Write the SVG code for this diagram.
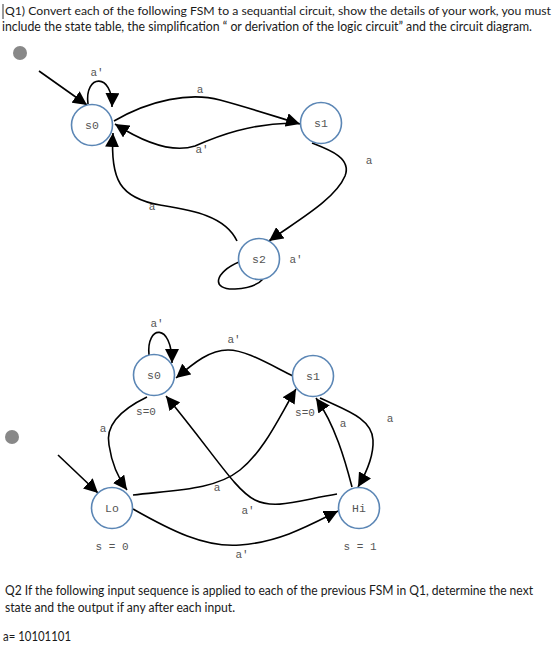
<svg xmlns="http://www.w3.org/2000/svg" width="556" height="654" viewBox="0 0 556 654">
<defs>
<marker id="ah" markerUnits="userSpaceOnUse" markerWidth="16" markerHeight="14" refX="14" refY="7" orient="auto">
<path d="M0,0 L14,7 L0,14 z" fill="#000"/>
</marker>
<style>
.doc{font-family:Lato,"Liberation Sans",Arial,sans-serif;font-size:12.5px;fill:#1a1a1a}
.st{fill:#fff;stroke:#5b86b5;stroke-width:1.6}
.nt{font-family:"Liberation Mono","Courier New",monospace;font-size:11.5px;fill:#555;text-anchor:middle}
.lb{font-family:"Liberation Mono","Courier New",monospace;font-size:11px;fill:#555;text-anchor:middle}
.e{fill:none;stroke:#000;stroke-width:1.6}
.ea{fill:none;stroke:#000;stroke-width:1.6;marker-end:url(#ah)}
.dot{fill:#888}
</style>
</defs>
<rect width="556" height="654" fill="#fff"/>
<line x1="3" y1="4" x2="3" y2="19" stroke="#333" stroke-width="1"/>
<text class="doc" x="5" y="15" style="font-size:12px" textLength="546" lengthAdjust="spacingAndGlyphs">Q1) Convert each of the following  FSM to a sequantial circuit, show the details of your work, you must</text>
<text class="doc" x="2" y="31" textLength="530" lengthAdjust="spacingAndGlyphs">include the state table, the simplification “ or derivation of the logic circuit” and the circuit diagram.</text>

<g id="connectors">
<path class="ea" d="M39,71 L87,105"/>
<path class="ea" d="M88,104 C84,74 113,72 112,107"/>
<path class="ea" d="M114,121 C150,100 190,92 220,100 C250,108 280,118 300,124"/>
<path class="ea" d="M292,123 C250,124 220,135 195,146 C170,154 140,140 115,124"/>
<path class="ea" d="M312,143 C330,150 352,158 345,176 C335,200 295,222 269,241"/>
<path class="ea" d="M237,241 C225,215 190,210 160,205 C120,198 110,180 113,133"/>
<path class="e" d="M239,262 C215,272 210,290 235,289 C250,288 258,285 263,279"/>

<path class="ea" d="M58,455 L98,493"/>
<path class="ea" d="M149,355 C146,325 172,322 172,363"/>
<path class="ea" d="M293,376 C265,362 245,350 228,350 C210,350 195,362 176,378"/>
<path class="ea" d="M147,397 C120,410 105,425 109,445 C112,465 118,478 127,490"/>
<path class="ea" d="M133,495 C175,490 215,490 240,470 C265,450 280,415 296,389"/>
<path class="ea" d="M337,494 C300,500 275,510 255,500 C235,490 215,455 166,396"/>
<path class="ea" d="M133,509 C170,530 205,548 240,545 C280,542 310,525 338,511"/>
<path class="ea" d="M352,487 C345,460 335,425 316,398"/>
<path class="ea" d="M320,398 C345,410 372,418 373,440 C374,458 365,475 358,487"/>
</g>

<g id="labels">
<text class="lb" x="97" y="76">a'</text>
<text class="lb" x="200" y="93">a</text>
<text class="lb" x="202" y="153">a'</text>
<text class="lb" x="369" y="164">a</text>
<text class="lb" x="152" y="210">a</text>
<text class="lb" x="296" y="263">a'</text>

<text class="lb" x="157" y="327">a'</text>
<text class="lb" x="234" y="343">a'</text>
<text class="lb" x="146" y="415">s=0</text>
<text class="lb" x="305" y="416">s=0</text>
<text class="lb" x="103" y="432">a</text>
<text class="lb" x="343" y="427">a</text>
<text class="lb" x="390" y="422">a</text>
<text class="lb" x="217" y="491">a</text>
<text class="lb" x="248" y="514">a'</text>
<text class="lb" x="242" y="558">a'</text>
<text class="lb" x="112" y="550">s = 0</text>
<text class="lb" x="360" y="550">s = 1</text>
</g>

<circle class="dot" cx="20" cy="53" r="7"/>
<circle class="dot" cx="12" cy="437" r="7"/>

<g id="d1_s0"><circle class="st" cx="92" cy="125" r="20.5"/><text class="nt" x="92" y="129">s0</text></g>
<g id="d1_s1"><circle class="st" cx="321" cy="123" r="20.5"/><text class="nt" x="321" y="127">s1</text></g>
<g id="d1_s2"><circle class="st" cx="259" cy="259" r="20.5"/><text class="nt" x="259" y="263">s2</text></g>

<g id="d2_s0"><circle class="st" cx="154" cy="375" r="20.5"/><text class="nt" x="154" y="379">s0</text></g>
<g id="d2_s1"><circle class="st" cx="313" cy="376" r="20.5"/><text class="nt" x="313" y="380">s1</text></g>
<g id="d2_lo"><circle class="st" cx="112" cy="508" r="20.5"/><text class="nt" x="112" y="512">Lo</text></g>
<g id="d2_hi"><circle class="st" cx="359" cy="508" r="20.5"/><text class="nt" x="359" y="512">Hi</text></g>

<text class="doc" x="5" y="595" textLength="528" lengthAdjust="spacingAndGlyphs">Q2 If the following input sequence is applied to each of the previous FSM in Q1, determine the next</text>
<text class="doc" x="5" y="612" textLength="230" lengthAdjust="spacingAndGlyphs">state and the output if any after each input.</text>
<text class="doc" x="3" y="641" textLength="68" lengthAdjust="spacingAndGlyphs">a= 10101101</text>
</svg>
